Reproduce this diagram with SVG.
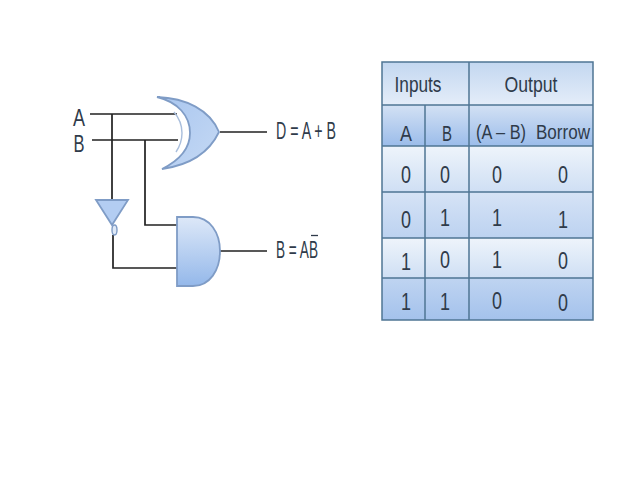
<svg xmlns="http://www.w3.org/2000/svg" width="638" height="478" viewBox="0 0 638 478">
<defs>
<linearGradient id="hdr" x1="0" y1="0" x2="0" y2="1"><stop offset="0" stop-color="#c3d7f0"/><stop offset="1" stop-color="#e4edf9"/></linearGradient>
<linearGradient id="sub" x1="0" y1="0" x2="0" y2="1"><stop offset="0" stop-color="#d3e1f4"/><stop offset="1" stop-color="#9bbcea"/></linearGradient>
<linearGradient id="r1" x1="0" y1="0" x2="0" y2="1"><stop offset="0" stop-color="#eef4fb"/><stop offset="1" stop-color="#cfdff4"/></linearGradient>
<linearGradient id="r2" x1="0" y1="0" x2="0" y2="1"><stop offset="0" stop-color="#d6e3f6"/><stop offset="1" stop-color="#bcd2f0"/></linearGradient>
<linearGradient id="r3" x1="0" y1="0" x2="0" y2="1"><stop offset="0" stop-color="#bfd4f1"/><stop offset="1" stop-color="#a4c2ec"/></linearGradient>
<linearGradient id="gate" x1="0" y1="0" x2="0" y2="1"><stop offset="0" stop-color="#dde8f8"/><stop offset="1" stop-color="#94b8ea"/></linearGradient>
<linearGradient id="orf" x1="0" y1="0" x2="1" y2="1"><stop offset="0" stop-color="#a9c6ef"/><stop offset="1" stop-color="#c5d9f4"/></linearGradient>
<filter id="soft" x="-5%" y="-5%" width="110%" height="110%"><feGaussianBlur stdDeviation="0.5"/></filter>
</defs>
<style>
text{font-family:"Liberation Sans",Arial,sans-serif;fill:#2f3b4a;text-anchor:middle}
.w{fill:none;stroke:#222;stroke-width:1.7}
.g{stroke:#7f9cc6;stroke-width:1.8}
.tb{fill:none;stroke:#4f7594;stroke-width:1.5}
.t{font-size:22px}
.s{font-size:20px}
.d{font-size:24px}
.l{font-size:23px}
</style>
<rect width="638" height="478" fill="#fff"/>
<g id="connectors" filter="url(#soft)">
<path class="w" d="M90 114H177M92 140H178M112 114V200M113 235V268H177M145 140V225H177M220 132H267M220 251H267"/>
</g>
<g id="or-gate" filter="url(#soft)">
<path d="M157 97C178 102 190 116 190 133C190 148 180 160 162 169C190 165 209 153 219 132C210 110 186 98 157 97Z" fill="url(#orf)" class="g"/>
<path d="M174 112C180 119 182 126 182 133C182 140 180 146 176 152" fill="none" stroke="#a9bedc" stroke-width="1.4"/>
</g>
<g id="and-gate" filter="url(#soft)">
<path d="M177 217H193C210 217 220 233 220 251C220 270 210 286 193 286H177Z" fill="url(#gate)" class="g"/>
</g>
<g id="inverter" filter="url(#soft)">
<path d="M96 200H128L112 225Z" fill="#b3cdf2" class="g"/>
<ellipse cx="114.500" cy="230" rx="2.500" ry="5" fill="#dfe9f7" stroke="#7f9cc6" stroke-width="1.4"/>
</g>
<g id="labels">
<text class="l" x="79" y="126" textLength="12" lengthAdjust="spacingAndGlyphs">A</text>
<text class="l" x="79" y="152" textLength="11" lengthAdjust="spacingAndGlyphs">B</text>
<text class="l" x="306" y="139" textLength="60" lengthAdjust="spacingAndGlyphs">D = A + B</text>
<text class="l" x="297" y="258" textLength="42" lengthAdjust="spacingAndGlyphs">B = AB</text>
<path d="M311 235.500H318" stroke="#2f3b4a" stroke-width="1.300"/>
</g>
<g id="table">
<rect x="382" y="62" width="211" height="43" fill="url(#hdr)"/>
<rect x="382" y="105" width="211" height="41" fill="url(#sub)"/>
<rect x="382" y="146" width="211" height="46" fill="url(#r1)"/>
<rect x="382" y="192" width="211" height="46" fill="url(#r2)"/>
<rect x="382" y="238" width="211" height="40" fill="url(#r1)"/>
<rect x="382" y="278" width="211" height="42" fill="url(#r3)"/>
<path class="tb" d="M382 62H593V320H382ZM382 105H593M382 146H593M382 192H593M382 238H593M382 278H593M425 105V320M469 62V320"/>
<text class="t" x="418" y="92" textLength="47" lengthAdjust="spacingAndGlyphs">Inputs</text>
<text class="t" x="531" y="92" textLength="53" lengthAdjust="spacingAndGlyphs">Output</text>
<text class="t" x="406" y="141" textLength="12" lengthAdjust="spacingAndGlyphs">A</text>
<text class="t" x="447" y="141" textLength="10" lengthAdjust="spacingAndGlyphs">B</text>
<text class="s" x="501" y="139" textLength="50" lengthAdjust="spacingAndGlyphs">(A – B)</text>
<text class="s" x="563" y="139" textLength="54" lengthAdjust="spacingAndGlyphs">Borrow</text>
<text class="d" x="406" y="183" textLength="10" lengthAdjust="spacingAndGlyphs">0</text><text class="d" x="445" y="183" textLength="10" lengthAdjust="spacingAndGlyphs">0</text><text class="d" x="497" y="183" textLength="10" lengthAdjust="spacingAndGlyphs">0</text><text class="d" x="563" y="183" textLength="10" lengthAdjust="spacingAndGlyphs">0</text>
<text class="d" x="406" y="228" textLength="10" lengthAdjust="spacingAndGlyphs">0</text><text class="d" x="445" y="226" textLength="10" lengthAdjust="spacingAndGlyphs">1</text><text class="d" x="497" y="226" textLength="10" lengthAdjust="spacingAndGlyphs">1</text><text class="d" x="563" y="228" textLength="10" lengthAdjust="spacingAndGlyphs">1</text>
<text class="d" x="406" y="270" textLength="10" lengthAdjust="spacingAndGlyphs">1</text><text class="d" x="445" y="268" textLength="10" lengthAdjust="spacingAndGlyphs">0</text><text class="d" x="497" y="268" textLength="10" lengthAdjust="spacingAndGlyphs">1</text><text class="d" x="563" y="269" textLength="10" lengthAdjust="spacingAndGlyphs">0</text>
<text class="d" x="406" y="310" textLength="10" lengthAdjust="spacingAndGlyphs">1</text><text class="d" x="445" y="310" textLength="10" lengthAdjust="spacingAndGlyphs">1</text><text class="d" x="497" y="309" textLength="10" lengthAdjust="spacingAndGlyphs">0</text><text class="d" x="563" y="311" textLength="10" lengthAdjust="spacingAndGlyphs">0</text>
</g>
</svg>
